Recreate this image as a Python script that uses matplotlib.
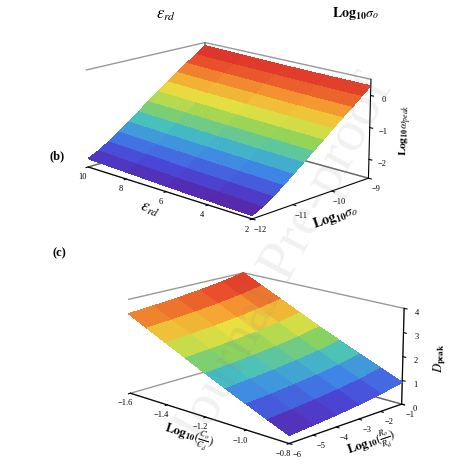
import numpy as np
import matplotlib
matplotlib.use("Agg")
import matplotlib.pyplot as plt
from matplotlib.colors import LinearSegmentedColormap

plt.rcParams['font.family'] = ['Liberation Serif', 'DejaVu Serif']
plt.rcParams['mathtext.fontset'] = 'stix'

# Panel (b): Log10 omega_peak vs eps_rd and Log10 sigma_o
eps_rd = [2, 4, 6, 8, 10]
log_sigma = [-12, -11.75, -11.5, -11.25, -11, -10.75, -10.5, -10.25, -10, -9.75, -9.5, -9.25, -9]
omega_peak = [  # rows: eps_rd, cols: log_sigma
    [-2.50, -2.35, -2.15, -1.92, -1.68, -1.43, -1.18, -0.93, -0.68, -0.43, -0.2, 0.05, 0.30],
    [-2.47, -2.31, -2.11, -1.88, -1.64, -1.39, -1.14, -0.89, -0.64, -0.40, -0.17, 0.07, 0.31],
    [-2.43, -2.27, -2.07, -1.84, -1.60, -1.35, -1.10, -0.85, -0.60, -0.36, -0.13, 0.10, 0.33],
    [-2.38, -2.22, -2.02, -1.79, -1.55, -1.30, -1.05, -0.80, -0.56, -0.32, -0.09, 0.13, 0.36],
    [-2.33, -2.17, -1.97, -1.74, -1.50, -1.25, -1.00, -0.75, -0.51, -0.28, -0.05, 0.17, 0.40],
]
# Panel (c): D_peak vs Log10(Co/Cd) and Log10(Ro/Rd)
log_c = [-1.6, -1.5, -1.4, -1.3, -1.2, -1.1, -1.0, -0.9, -0.8]
log_r = [-6, -5, -4, -3, -2, -1]
d_peak = [  # rows: log_c, cols: log_r
    [3.40, 3.48, 3.57, 3.68, 3.82, 4.00],
    [3.00, 3.08, 3.17, 3.28, 3.42, 3.60],
    [2.60, 2.68, 2.77, 2.88, 3.02, 3.20],
    [2.20, 2.28, 2.37, 2.48, 2.62, 2.80],
    [1.80, 1.88, 1.97, 2.08, 2.22, 2.40],
    [1.42, 1.50, 1.59, 1.70, 1.84, 2.02],
    [1.05, 1.13, 1.22, 1.33, 1.47, 1.65],
    [0.68, 0.76, 0.85, 0.96, 1.10, 1.28],
    [0.32, 0.40, 0.49, 0.60, 0.74, 0.92],
]

cmap = LinearSegmentedColormap.from_list('mrainbow', [
    '#5a1e9e', '#4a48d8', '#3f86e6', '#45c0c0', '#8fd35a', '#e8e040', '#f5a030', '#e8502a', '#d8282a'])

fig = plt.figure(figsize=(4.74, 4.74), dpi=100)

def style(ax):
    ax.set_box_aspect((1.35, 1, 0.6), zoom=1.0)
    ax.patch.set_visible(False)
    for a in (ax.xaxis, ax.yaxis, ax.zaxis):
        a.pane.fill = False
        a.pane.set_edgecolor('#333333')
        a._axinfo['tick']['inward_factor'] = 0.2
        a._axinfo['tick']['outward_factor'] = 0.0
    ax.grid(False)
    ax.tick_params(labelsize=6, pad=-3)

# (b)
axb = fig.add_axes([-0.08, 0.42, 1.1, 0.62], projection='3d')
X, Y = np.meshgrid(log_sigma, eps_rd)
Z = np.array(omega_peak)
axb.plot_surface(Y, X, Z, cmap=cmap, rstride=1, cstride=1, linewidth=0,
                 antialiased=False, vmin=-2.5, vmax=0.4, shade=False)
axb.set_xlim(10, 2); axb.set_ylim(-12, -9); axb.set_zlim(-2.6, 0.5)
axb.set_xticks([2, 4, 6, 8, 10]); axb.set_yticks([-12, -11, -10, -9]); axb.set_zticks([-2, -1, 0])
axb.view_init(elev=16, azim=-46)
style(axb)
axb.set_xlabel(r'$\varepsilon_{rd}$', fontsize=12, labelpad=-7)
axb.set_ylabel(r'$\mathbf{Log_{10}}\sigma_o$', fontsize=10, labelpad=-7)
axb.set_zlabel(r'$\mathbf{Log_{10}}\omega_{peak}$', fontsize=8, labelpad=-7)
fig.text(0.105, 0.665, '(b)', fontsize=9, fontweight='bold')

# (c)
axc = fig.add_axes([0.05, -0.05, 1.0, 0.6], projection='3d')
X2, Y2 = np.meshgrid(log_r, log_c)
Z2 = np.array(d_peak)
axc.plot_surface(Y2, X2, Z2, cmap=cmap, rstride=1, cstride=1, linewidth=0,
                 antialiased=False, vmin=0.3, vmax=4.0, shade=False)
axc.set_xlim(-1.6, -0.8); axc.set_ylim(-6, -1); axc.set_zlim(0, 4)
axc.set_xticks([-1.6, -1.4, -1.2, -1.0, -0.8]); axc.set_yticks([-6, -5, -4, -3, -2, -1]); axc.set_zticks([0, 1, 2, 3, 4])
axc.view_init(elev=16, azim=-46)
style(axc)
axc.set_xlabel(r'$\mathbf{Log_{10}}(\frac{C_o}{C_d})$', fontsize=9, labelpad=-6)
axc.set_ylabel(r'$\mathbf{Log_{10}}(\frac{R_o}{R_d})$', fontsize=9, labelpad=-6)
axc.set_zlabel(r'$D_{\mathbf{peak}}$', fontsize=9, labelpad=-7)
fig.text(0.11, 0.46, '(c)', fontsize=9, fontweight='bold')

# fragment of panel (a) at top
fig.text(0.33, 0.96, r'$\varepsilon_{rd}$', fontsize=12)
fig.text(0.70, 0.965, r'$\mathbf{Log_{10}}\sigma_o$', fontsize=10)

# watermark
fig.text(0.6, 0.45, 'Journal Pre-proof', fontsize=42, color='#888888', alpha=0.12,
         rotation=62, ha='center', va='center')

fig.savefig('out.png', dpi=100)
